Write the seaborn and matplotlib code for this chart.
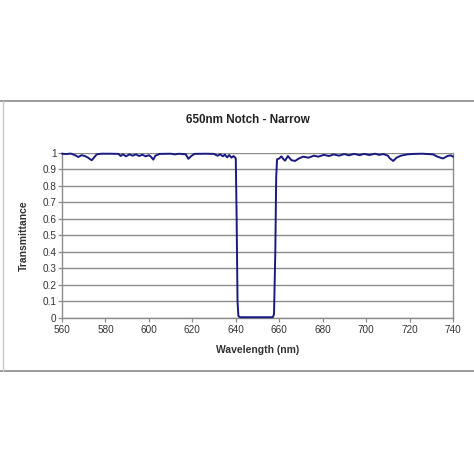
import matplotlib
matplotlib.use("Agg")
import matplotlib.pyplot as plt
import seaborn as sns
import pandas as pd
from matplotlib.lines import Line2D

wavelength = [560, 562, 564, 566, 567.5, 569, 570.5, 572, 573.7, 575, 576, 578, 582, 586, 587, 588,
              589.5, 591, 592.5, 594, 595.5, 597, 598.5, 600, 601, 602, 603, 605, 610, 612, 614,
              617, 618.2, 619.5, 621, 626, 630, 631.5, 633, 634, 635, 636, 637, 638, 639, 640,
              640.4, 640.8, 641.2, 642, 645, 650, 655, 657, 657.6, 658.2, 658.6, 659, 660, 661,
              662, 662.7, 664, 665.6, 667.3, 669, 671, 673.5, 676, 678, 680.5, 683, 685, 687.5,
              690, 692, 694.5, 697, 699, 701.5, 704, 706, 708, 710, 711, 712.5, 714, 716, 719,
              722, 726, 730.8, 733, 735.4, 737.5, 739, 740]
transmittance = [0.994, 0.992, 0.995, 0.985, 0.974, 0.985, 0.98, 0.97, 0.954, 0.975, 0.99, 0.994,
                 0.994, 0.993, 0.98, 0.99, 0.978, 0.99, 0.982, 0.99, 0.98, 0.988, 0.978, 0.985,
                 0.975, 0.958, 0.982, 0.993, 0.994, 0.99, 0.994, 0.99, 0.963, 0.98, 0.993, 0.994,
                 0.993, 0.982, 0.99, 0.978, 0.988, 0.972, 0.986, 0.97, 0.98, 0.966, 0.6, 0.1,
                 0.01, 0.003, 0.003, 0.003, 0.003, 0.003, 0.02, 0.4, 0.85, 0.96, 0.965, 0.978,
                 0.96, 0.952, 0.98, 0.955, 0.95, 0.965, 0.976, 0.97, 0.982, 0.976, 0.987, 0.98,
                 0.99, 0.982, 0.992, 0.984, 0.993, 0.985, 0.993, 0.986, 0.994, 0.987, 0.992,
                 0.982, 0.965, 0.95, 0.97, 0.982, 0.99, 0.993, 0.994, 0.99, 0.975, 0.965, 0.98,
                 0.984, 0.976]
x_ticks = [560, 580, 600, 620, 640, 660, 680, 700, 720, 740]
y_ticks = [0, 0.1, 0.2, 0.3, 0.4, 0.5, 0.6, 0.7, 0.8, 0.9, 1]
y_tick_labels = ["0", "0.1", "0.2", "0.3", "0.4", "0.5", "0.6", "0.7", "0.8", "0.9", "1"]

sns.set_style("white")
plt.rcParams['font.family'] = ['Liberation Sans', 'DejaVu Sans']

df = pd.DataFrame({"Wavelength": wavelength, "Transmittance": transmittance})

fig = plt.figure(figsize=(4.74, 4.74), dpi=100)
fig.patch.set_facecolor("white")

# outer chart frame
fc = "#8a8a8a"
fig.add_artist(Line2D([0, 1], [0.7869, 0.7869], transform=fig.transFigure, color=fc, lw=1.2))
fig.add_artist(Line2D([0, 1], [0.2173, 0.2173], transform=fig.transFigure, color=fc, lw=1.2))
fig.add_artist(Line2D([0.007, 0.007], [0.2173, 0.7869], transform=fig.transFigure, color="#c8c8c8", lw=1.0))

ax = fig.add_axes([0.1308, 0.3297, 0.8249, 0.3481])
for yv in y_ticks:
    ax.axhline(yv, color="#8c8c8c", lw=1.0, zorder=0)

sns.lineplot(data=df, x="Wavelength", y="Transmittance", ax=ax, color="#1a1a80",
             lw=1.4, estimator=None, sort=False, zorder=3)
for l in ax.lines[-1:]:
    l.set_clip_on(False)

ax.set_xlim(560, 740)
ax.set_ylim(0, 1)
ax.set_xticks(x_ticks)
ax.set_xticklabels([str(v) for v in x_ticks])
ax.set_yticks(y_ticks)
ax.set_yticklabels(y_tick_labels)
ax.tick_params(axis="both", which="both", length=3, width=0.9, color="#8c8c8c",
               labelsize=7.2, labelcolor="#333333", direction="out")
ax.tick_params(axis="x", bottom=True, pad=2)
ax.tick_params(axis="y", left=True, pad=1)

for side in ["left", "bottom", "right"]:
    ax.spines[side].set_visible(True)
    ax.spines[side].set_color("#8c8c8c")
    ax.spines[side].set_linewidth(1.0)
ax.spines["top"].set_visible(False)

ax.set_xlabel("Wavelength (nm)", fontsize=7.5, fontweight="bold", color="#333333", labelpad=7.5)
ax.set_ylabel("Transmittance", fontsize=7.5, fontweight="bold", color="#333333", labelpad=10)
fig.text(0.5233, 0.747, "650nm Notch - Narrow", ha="center", va="center",
         fontsize=8.4, fontweight="bold", color="#222222")

fig.savefig("out.png", dpi=100, facecolor="white")
